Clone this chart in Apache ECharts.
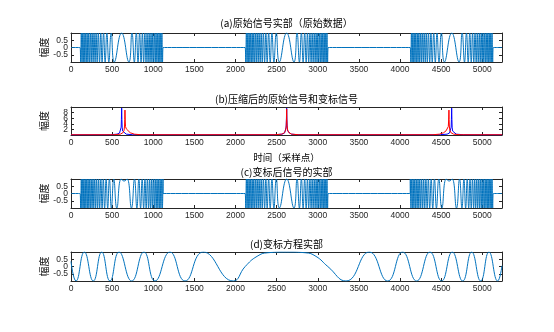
<!DOCTYPE html>
<html>
<head>
<meta charset="utf-8">
<script src="https://cdn.jsdelivr.net/npm/echarts@6/dist/echarts.min.js"></script>
<style>
  html, body { margin: 0; padding: 0; background: #ffffff; }
  #chart { width: 554px; height: 332px; }
</style>
</head>
<body>
<div id="chart"></div>
<script>
// ---- data ----------------------------------------------------------------
const xMax = 5240;                       // last sample shown on the time axis
const xTicks = [0, 500, 1000, 1500, 2000, 2500, 3000, 3500, 4000, 4500, 5000];

// three echo pulses: first and last sample of each
const segStart = [110, 2117, 4124];
const segEnd   = [1120, 3127, 5134];

// pulse centres before (a) and after (c) the scaling multiplication
const centerRaw    = [615, 2622, 4629];
const centerScaled = [646, 2622, 4598];
// value at the pulse centre in (c); below 1 means a small dip between two tops
const centerValueScaled = [0.86, 1, 0.86];
const dipHalfWidth = 36;

// distance (samples) of successive extrema from a pulse centre;
// even entries are crests (+1), odd entries troughs (-1)
const extremaOffsets = [0, 89, 126, 155, 179, 200, 219, 237, 253, 268, 283, 297,
  310, 322, 335, 346, 358, 369, 379, 390, 400, 410, 419, 429, 438, 447, 456,
  465, 473, 481, 490, 498, 506, 514, 521, 529, 537, 544];

// (b) magnitude after compression: original (blue) and scaled (red)
const compBlue = [[0,0.08],[480,0.1],[560,0.3],[590,0.7],[604,1.4],[610,2.8],[613,5.5],[616,9.6],[619,5.5],[622,2.8],[628,1.4],[642,0.7],[672,0.3],[750,0.1],
  [2480,0.1],[2566,0.3],[2596,0.7],[2610,1.4],[2616,2.8],[2619,5.5],[2622,9.6],[2625,5.5],[2628,2.8],[2634,1.4],[2648,0.7],[2678,0.3],[2760,0.1],
  [4490,0.1],[4572,0.3],[4602,0.7],[4616,1.4],[4622,2.8],[4625,5.5],[4628,9.6],[4631,5.5],[4634,2.8],[4640,1.4],[4654,0.7],[4684,0.3],[4770,0.1],[5240,0.08]];
const compRed = [[0,0.08],[520,0.1],[600,0.3],[630,0.8],[645,1.6],[651,3.2],[654,5.5],[656,8.9],[659,5],[663,3],[672,2.2],[690,1.5],[720,0.8],[770,0.3],[850,0.1],
  [2480,0.1],[2560,0.3],[2595,0.8],[2610,1.8],[2617,3.5],[2620,6],[2622,9.3],[2624,6],[2627,3.5],[2634,1.8],[2649,0.8],[2684,0.3],[2770,0.1],
  [4400,0.1],[4480,0.3],[4530,0.8],[4560,1.5],[4578,2.2],[4587,3],[4591,5],[4595,8.9],[4597,5.5],[4600,3.2],[4606,1.6],[4621,0.8],[4651,0.3],[4730,0.1],[5240,0.08]];

// (d) real part of the scaling function: sample positions and values
const phiX = [0, 61, 162, 271, 373, 474, 584, 738, 887, 1021, 1203, 1386, 1608, 1973,
  2118, 2262, 2394, 2620, 2846, 2978, 3122,
  3343, 3626, 3850, 4031, 4202, 4364, 4506, 4635, 4762, 4871, 4981, 5081, 5187, 5240];
const phiY = [0.35, -1, 1, -1, 1, -1, 1, -1, 1, -1, 1, -1, 1, -1,
  0, 0.7, 0.95, 1, 0.95, 0.7, 0,
  -1, 1, -1, 1, -1, 1, -1, 1, -1, 1, -1, 1, -1, 0.05];

// ---- build the line data ------------------------------------------------
function pulseTrain(centers, centerValues) {
  const pts = [[0, 0]];
  for (let i = 0; i < segStart.length; i++) {
    const s = segStart[i], e = segEnd[i], c = centers[i];
    pts.push([s, 0]);
    for (let n = extremaOffsets.length - 1; n >= 1; n--) {
      const x = c - extremaOffsets[n];
      if (x > s) pts.push([x, n % 2 ? -1 : 1]);
    }
    const cv = centerValues ? centerValues[i] : 1;
    if (cv < 1) {
      pts.push([c - dipHalfWidth, 1], [c, cv], [c + dipHalfWidth, 1]);
    } else {
      pts.push([c, 1]);
    }
    for (let n = 1; n < extremaOffsets.length; n++) {
      const x = c + extremaOffsets[n];
      if (x < e) pts.push([x, n % 2 ? -1 : 1]);
    }
    pts.push([e, 0]);
  }
  pts.push([xMax, 0]);
  return pts;
}

const rawData = pulseTrain(centerRaw, null);
const scaledData = pulseTrain(centerScaled, centerValueScaled);
const phiData = phiX.map((x, i) => [x, phiY[i]]);

// ---- layout ---------------------------------------------------------------
const AX = '#262626';
const FONT = '"Liberation Sans", Arial, "Noto Sans CJK SC", sans-serif';
const CJK = '"Noto Sans CJK SC", "Liberation Sans", sans-serif';
const plotLeft = 71, plotWidth = 431;
const panels = [
  { top: 33,  height: 29, ymin: -1, ymax: 1,  step: 0.5, shown: [-1, -0.5, 0, 0.5] },
  { top: 107, height: 28, ymin: 0,  ymax: 10, step: 2,   shown: [2, 4, 6, 8] },
  { top: 179, height: 29, ymin: -1, ymax: 1,  step: 0.5, shown: [-0.5, 0, 0.5] },
  { top: 252, height: 29, ymin: -1, ymax: 1,  step: 0.5, shown: [-0.5, 0, 0.5] }
];
const titles = ['(a)原始信号实部（原始数据）', '(b)压缩后的原始信号和变标信号',
                '(c)变标后信号的实部', '(d)变标方程实部'];
const titleY = [23, 99, 172, 244];

const grid = [], xAxis = [], yAxis = [], graphic = [];
const tick = { show: true, inside: true, length: 3, lineStyle: { color: AX, width: 1 } };
const line = { show: true, onZero: false, lineStyle: { color: AX, width: 1 } };

panels.forEach((p, i) => {
  grid.push({ left: plotLeft, width: plotWidth, top: p.top, height: p.height });
  const xBase = { type: 'value', gridIndex: i, min: 0, max: xMax, interval: 500,
    splitLine: { show: false }, axisLine: line, axisTick: tick };
  xAxis.push(Object.assign({}, xBase, { position: 'bottom',
    axisLabel: { show: true, fontSize: 8.5, color: AX, fontFamily: FONT, margin: 3,
      formatter: v => (xTicks.indexOf(v) >= 0 ? String(v) : '') } }));
  xAxis.push(Object.assign({}, xBase, { position: 'top', axisLabel: { show: false } }));
  const yBase = { type: 'value', gridIndex: i, min: p.ymin, max: p.ymax, interval: p.step,
    splitLine: { show: false }, axisLine: line, axisTick: tick };
  yAxis.push(Object.assign({}, yBase, { position: 'left',
    axisLabel: { show: true, fontSize: 8.5, color: AX, fontFamily: FONT, margin: 3,
      formatter: v => (p.shown.indexOf(v) >= 0 ? String(v) : '') } }));
  yAxis.push(Object.assign({}, yBase, { position: 'right', axisLabel: { show: false } }));

  graphic.push({ type: 'text', x: plotLeft + plotWidth / 2, y: titleY[i],
    style: { text: titles[i], font: '10px ' + CJK, fill: '#000', textAlign: 'center', textVerticalAlign: 'middle' } });
  graphic.push({ type: 'text', x: 44, y: p.top + p.height / 2, rotation: Math.PI / 2,
    style: { text: '幅度', font: '10px ' + CJK, fill: '#000', textAlign: 'center', textVerticalAlign: 'middle' } });
});
graphic.push({ type: 'text', x: plotLeft + plotWidth / 2, y: 157,
  style: { text: '时间（采样点）', font: '9.5px ' + CJK, fill: '#000', textAlign: 'center', textVerticalAlign: 'middle' } });

const lineSeries = (data, xi, color, smooth) => ({
  type: 'line', data, xAxisIndex: xi * 2, yAxisIndex: xi * 2, showSymbol: false,
  smooth: smooth, lineStyle: { color, width: 1 }, itemStyle: { color }, silent: true
});

const chart = echarts.init(document.getElementById('chart'), null, { renderer: 'canvas' });
chart.setOption({
  animation: false,
  backgroundColor: '#ffffff',
  grid, xAxis, yAxis, graphic,
  series: [
    lineSeries(rawData, 0, '#0072BD', true),
    lineSeries(compBlue, 1, '#0000FF', false),
    lineSeries(compRed, 1, '#FF0000', false),
    lineSeries(scaledData, 2, '#0072BD', true),
    lineSeries(phiData, 3, '#0072BD', true)
  ]
});
</script>
</body>
</html>
